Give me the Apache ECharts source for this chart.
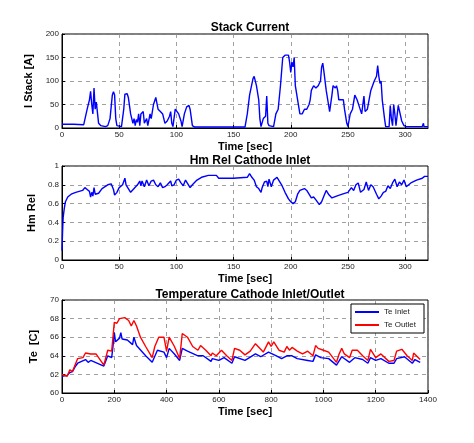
<!DOCTYPE html><html><head><meta charset="utf-8">
<script src="https://cdn.jsdelivr.net/npm/echarts@6/dist/echarts.min.js"></script>
<style>html,body{margin:0;background:#fff}#c{width:474px;height:443px}</style></head><body><div id="c"></div><script>
const stackCurrent=[[0,8],[10,8],[19,7],[20,10],[22,40],[24,60],[25,78],[26,50],[27,30],[28,85],[29,40],[30,55],[32,10],[34,5],[38,3],[40,5],[42,20],[44,70],[45,77],[46,70],[47,20],[48,5],[52,3],[54,40],[55,72],[57,73],[58,65],[60,30],[62,10],[63,20],[64,5],[65,18],[66,12],[67,30],[68,5],[69,30],[71,35],[72,10],[74,20],[75,5],[77,30],[78,20],[80,50],[82,65],[84,40],[86,35],[88,30],[90,10],[92,15],[94,25],[95,35],[96,10],[97,3],[99,40],[100,40],[102,30],[104,15],[105,3],[107,30],[109,45],[111,48],[112,40],[114,5],[116,2],[160,2],[162,30],[164,70],[167,105],[168,110],[170,90],[172,60],[173,20],[174,3],[176,20],[178,25],[179,68],[180,10],[181,5],[185,3],[187,30],[189,40],[191,90],[193,150],[195,155],[198,155],[199,140],[200,118],[201,140],[202,130],[203,150],[204,90],[206,60],[208,30],[210,30],[212,40],[214,40],[216,50],[217,60],[218,80],[220,90],[222,85],[224,90],[226,100],[227,130],[228,138],[229,120],[231,80],[233,50],[234,35],[236,70],[237,90],[239,85],[240,90],[241,80],[242,60],[244,60],[246,60],[247,40],[249,10],[250,3],[252,30],[254,40],[256,70],[258,60],[260,45],[262,30],[264,68],[265,35],[267,40],[270,80],[273,100],[275,110],[276,133],[277,110],[278,95],[279,100],[280,60],[282,20],[283,3],[286,3],[287,48],[288,20],[289,5],[290,50],[291,30],[292,5],[294,48],[295,45],[297,15],[299,5],[301,3],[315,3],[316,10],[316.5,3],[320,3]];
const hmRel=[[0,0.1],[0.5,0.3],[1,0.45],[2,0.55],[3,0.62],[5,0.67],[8,0.7],[12,0.72],[18,0.74],[20,0.77],[22,0.75],[24,0.73],[25,0.67],[26,0.72],[27,0.68],[28,0.77],[29,0.7],[32,0.71],[35,0.76],[40,0.8],[43,0.81],[45,0.75],[46,0.69],[48,0.72],[50,0.77],[53,0.8],[55,0.87],[56,0.8],[58,0.76],[60,0.72],[63,0.76],[66,0.8],[68,0.84],[69,0.79],[70,0.84],[72,0.78],[74,0.85],[76,0.79],[78,0.84],[80,0.85],[82,0.8],[84,0.78],[86,0.82],[88,0.77],[90,0.78],[92,0.8],[95,0.84],[96,0.79],[98,0.8],[100,0.85],[102,0.86],[104,0.82],[106,0.79],[108,0.85],[110,0.81],[112,0.77],[114,0.8],[118,0.85],[122,0.88],[128,0.9],[135,0.9],[137,0.87],[150,0.87],[162,0.88],[164,0.92],[166,0.88],[168,0.85],[170,0.78],[172,0.76],[174,0.72],[175,0.77],[177,0.83],[179,0.84],[180,0.78],[181,0.86],[183,0.78],[185,0.85],[188,0.88],[190,0.84],[192,0.8],[195,0.72],[198,0.65],[200,0.62],[202,0.6],[204,0.62],[206,0.7],[208,0.74],[212,0.76],[214,0.74],[216,0.7],[218,0.66],[220,0.67],[222,0.64],[225,0.59],[227,0.62],[229,0.68],[231,0.74],[233,0.7],[236,0.66],[240,0.68],[245,0.7],[250,0.72],[253,0.77],[255,0.74],[257,0.8],[259,0.82],[261,0.72],[264,0.75],[266,0.83],[268,0.74],[270,0.8],[272,0.78],[275,0.7],[277,0.65],[279,0.68],[281,0.72],[283,0.73],[285,0.79],[287,0.76],[289,0.82],[291,0.86],[293,0.78],[295,0.83],[297,0.8],[299,0.85],[301,0.78],[305,0.82],[310,0.85],[315,0.87],[317,0.89],[320,0.89]];
const teOutlet=[[0,62],[20,61.8],[30,62.5],[40,62.3],[50,63],[60,63.7],[80,63.8],[90,64.3],[110,64.2],[130,64.2],[160,63],[175,64.6],[190,64.5],[195,66],[200,67.6],[210,67.5],[220,68],[240,68.1],[255,67.8],[265,67.2],[275,67.8],[285,67.2],[300,66],[320,65],[345,63.8],[355,65],[370,66],[390,66],[400,64.5],[410,66],[430,65],[450,63.7],[460,66.4],[480,66],[500,65],[520,64.6],[530,65.1],[550,64.6],[570,64],[575,64.3],[590,64],[610,64.6],[630,64],[650,63.5],[660,64.8],[680,64.6],[700,64.1],[720,64.5],[740,65.3],[750,65],[770,64.4],[790,65.5],[800,65],[810,65.5],[830,64.6],[850,64.4],[860,65],[870,64.6],[880,64.9],[900,64.5],[920,64.2],[940,64.5],[960,64],[970,65.1],[980,64.8],[1000,64.6],[1020,64.4],[1050,63.3],[1060,64.2],[1070,64.8],[1080,64.2],[1100,63.8],[1110,64.6],[1130,64.6],[1150,64],[1170,63.5],[1180,64.7],[1200,63.8],[1220,64.2],[1250,63.4],[1270,63.5],[1280,64.5],[1300,64.7],[1320,64],[1340,63.5],[1345,64.3],[1370,63.6]];
const teInlet=[[0,61.8],[20,61.9],[30,62.2],[40,62.3],[50,62.8],[60,63.2],[90,63.6],[100,63.3],[110,63.5],[160,62.9],[175,64],[190,63.8],[195,65],[200,66.5],[205,65.5],[220,65.9],[225,66.5],[230,65.8],[250,65.7],[270,65.2],[275,66],[285,65.1],[320,64],[345,63.3],[365,64.6],[390,64.4],[400,63.8],[410,64.8],[430,64.2],[450,63.5],[460,64.8],[480,64.5],[520,64],[540,64],[570,63.4],[575,63.7],[600,63.5],[620,63.8],[650,63.2],[660,63.9],[700,63.5],[740,64.2],[760,63.9],[790,64.4],[820,64],[840,63.7],[860,64],[880,64],[900,63.7],[940,63.5],[960,63.4],[970,64.1],[990,63.8],[1020,63.7],[1050,63],[1070,63.9],[1100,63.3],[1120,63.8],[1150,63.6],[1170,63.2],[1180,63.8],[1200,63.5],[1220,63.7],[1250,63.2],[1270,63.2],[1280,63.7],[1310,63.9],[1340,63.2],[1350,63.6],[1370,63.3]];
const F='Liberation Sans';
const grids=[{left:62,width:366,top:34,height:94},{left:62,width:366,top:166,height:94},{left:62,width:366,top:300,height:93}];
const gl={show:true,lineStyle:{type:[4,4],color:'#888',width:0.8}};
const lab={fontFamily:F,fontSize:8,color:'#222',margin:3};
const nm={fontFamily:F,fontSize:11,fontWeight:'bold',color:'#000'};
function xa(i,max,interval,showMax){return {type:'value',gridIndex:i,min:0,max:max,interval:interval,name:'Time [sec]',nameLocation:'middle',nameGap:13,nameTextStyle:nm,axisLabel:Object.assign({},lab,{showMaxLabel:showMax,formatter:v=>String(v)}),axisTick:{show:true,inside:true,length:3},axisLine:{lineStyle:{color:'#000'}},splitLine:gl};}
function ya(i,min,max,interval,name,gap,fmt){return {type:'value',gridIndex:i,min:min,max:max,interval:interval,name:name,nameLocation:'middle',nameGap:gap,nameTextStyle:nm,axisLabel:Object.assign({},lab,fmt?{formatter:fmt}:{}),axisTick:{show:true,inside:true,length:3},axisLine:{lineStyle:{color:'#000'}},splitLine:gl};}
const c=echarts.init(document.getElementById('c'));
const t={fontFamily:F,fontSize:12,fontWeight:'bold',color:'#000'};
c.setOption({animation:false,
title:[{text:'Stack Current',left:245,textAlign:'center',top:17,textStyle:t},{text:'Hm Rel Cathode Inlet',left:245,textAlign:'center',top:150,textStyle:t},{text:'Temperature Cathode Inlet/Outlet',left:245,textAlign:'center',top:284,textStyle:t}],
grid:grids.map(g=>Object.assign({show:true,borderColor:'#000',borderWidth:1},g)),
xAxis:[xa(0,320,50,false),xa(1,320,50,false),xa(2,1400,200,true)],
yAxis:[ya(0,0,200,50,'I Stack [A]',22),ya(1,0,1,0.2,'Hm Rel',22,v=>String(+v.toFixed(1))),ya(2,60,70,2,'Te  [C]',22)],
legend:{data:['Te Inlet','Te Outlet'],orient:'vertical',right:50,top:304,itemWidth:24,itemHeight:2,itemGap:5,icon:'rect',backgroundColor:'#fff',borderColor:'#000',borderWidth:1,padding:[4,8,4,4],textStyle:{fontFamily:F,fontSize:8,color:'#222'}},
series:[
{type:'line',xAxisIndex:0,yAxisIndex:0,data:stackCurrent,showSymbol:false,lineStyle:{color:'#0000ff',width:1.4},itemStyle:{color:'#0000ff'}},
{type:'line',xAxisIndex:1,yAxisIndex:1,data:hmRel,showSymbol:false,lineStyle:{color:'#0000ff',width:1.4},itemStyle:{color:'#0000ff'}},
{name:'Te Inlet',type:'line',xAxisIndex:2,yAxisIndex:2,data:teInlet,showSymbol:false,lineStyle:{color:'#0000ff',width:1.4},itemStyle:{color:'#0000ff'}},
{name:'Te Outlet',type:'line',xAxisIndex:2,yAxisIndex:2,data:teOutlet,showSymbol:false,lineStyle:{color:'#ff0000',width:1.4},itemStyle:{color:'#ff0000'}}
]});
</script></body></html>
